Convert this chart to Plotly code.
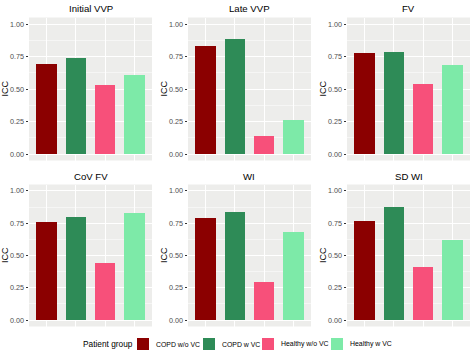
import plotly.graph_objects as go

groups = ["COPD w/o VC", "COPD w VC", "Healthy w/o VC", "Healthy w VC"]
colors = ["#8B0000", "#2E8B57", "#F7507A", "#7DEAA8"]
panels = ["Initial VVP", "Late VVP", "FV", "CoV FV", "WI", "SD WI"]
icc_initial_vvp = [0.69, 0.738, 0.527, 0.608]
icc_late_vvp = [0.828, 0.887, 0.136, 0.264]
icc_fv = [0.775, 0.787, 0.536, 0.682]
icc_cov_fv = [0.757, 0.80, 0.44, 0.827]
icc_wi = [0.788, 0.835, 0.292, 0.685]
icc_sd_wi = [0.77, 0.878, 0.408, 0.622]
values = [icc_initial_vvp, icc_late_vvp, icc_fv, icc_cov_fv, icc_wi, icc_sd_wi]
y_ticks = [0, 0.25, 0.5, 0.75, 1.0]
y_ticklabels = ["0.00", "0.25", "0.50", "0.75", "1.00"]
legend_title = "Patient group"

W, H = 474, 355
col_px = [(29, 152), (188, 311), (347, 470)]
row_px = [(17.5, 160.5), (184.5, 326.5)]
FONT = "Liberation Sans, Arial, Helvetica, sans-serif"

fig = go.Figure()
layout = {}
annotations = []
shapes = []
for i, (name, vals) in enumerate(zip(panels, values)):
    r, c = divmod(i, 3)
    ax = "" if i == 0 else str(i + 1)
    for g, v, col in zip(groups, vals, colors):
        fig.add_trace(go.Bar(
            x=[g], y=[v], name=g, marker=dict(color=col, line=dict(width=0)),
            width=0.7, xaxis="x" + ax, yaxis="y" + ax, showlegend=False,
        ))
    x0, x1 = col_px[c]
    y0, y1 = row_px[r]
    layout["xaxis" + ax] = dict(
        domain=[x0 / W, x1 / W], anchor="y" + ax, type="category",
        categoryorder="array", categoryarray=groups,
        range=[-0.6, 3.6], showticklabels=False, ticks="",
        showgrid=True, gridcolor="white", gridwidth=1, zeroline=False,
        showline=False, fixedrange=True, automargin=False,
    )
    layout["yaxis" + ax] = dict(
        domain=[1 - y1 / H, 1 - y0 / H], anchor="x" + ax,
        range=[-0.05, 1.05], tickvals=y_ticks, ticktext=y_ticklabels,
        ticks="outside", ticklen=2.5, tickwidth=1, tickcolor="#333333",
        tickfont=dict(size=7.2, color="#4D4D4D", family=FONT),
        showgrid=True, gridcolor="white", gridwidth=1, zeroline=False,
        minor=dict(dtick=0.125, tick0=0, showgrid=True, gridcolor="white", gridwidth=0.5, ticks=""),
        showline=False, fixedrange=True, automargin=False,
    )
    annotations.append(dict(
        text=name, x=(x0 + x1) / 2 / W, y=1 - (y0 - 8.5) / H, xref="paper", yref="paper",
        showarrow=False, font=dict(size=9.6, color="black", family=FONT),
        xanchor="center", yanchor="middle",
    ))
    annotations.append(dict(
        text="ICC", x=(x0 - 24.5) / W, y=1 - (y0 + y1) / 2 / H, xref="paper", yref="paper",
        showarrow=False, textangle=-90, font=dict(size=9, color="black", family=FONT),
        xanchor="center", yanchor="middle",
    ))

# manual legend
leg_y = 344
annotations.append(dict(
    text=legend_title, x=81 / W, y=1 - leg_y / H, xref="paper", yref="paper",
    showarrow=False, font=dict(size=8.3, color="black", family=FONT),
    xanchor="left", yanchor="middle",
))
key_x = [137, 203, 262, 331]
for g, col, kx in zip(groups, colors, key_x):
    shapes.append(dict(
        type="rect", xref="paper", yref="paper",
        x0=kx / W, x1=(kx + 12) / W, y0=1 - (leg_y + 6) / H, y1=1 - (leg_y - 6) / H,
        fillcolor=col, line=dict(width=0),
    ))
    annotations.append(dict(
        text=g, x=(kx + 16.5) / W, y=1 - leg_y / H, xref="paper", yref="paper",
        showarrow=False, font=dict(size=6.9, color="black", family=FONT),
        xanchor="left", yanchor="middle",
    ))

fig.update_layout(
    **layout,
    annotations=annotations,
    shapes=shapes,
    width=W, height=H,
    margin=dict(l=0, r=0, t=0, b=0, autoexpand=False),
    paper_bgcolor="white", plot_bgcolor="#EDEDEB",
    barmode="overlay", bargap=0, showlegend=False,
    font=dict(family=FONT),
    hovermode=False,
)

fig.write_html(
    "out.html",
    config={"displayModeBar": False, "staticPlot": True},
    post_script="document.body.style.margin='0';document.body.style.padding='0';document.body.style.overflow='hidden';",
)
